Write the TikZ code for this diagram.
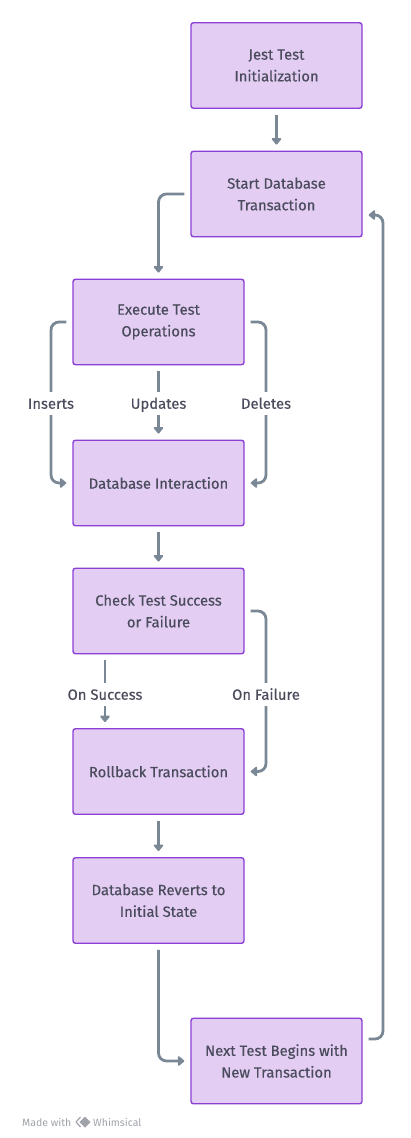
\documentclass[tikz,border=0pt]{standalone}
\usepackage{fontspec}
\setmainfont{Fira Sans}[UprightFeatures={FakeBold=0.35}]
\newfontfamily\wmfont{Fira Sans}
\usetikzlibrary{arrows.meta}
\definecolor{boxfill}{HTML}{E3CDF3}
\definecolor{boxdraw}{HTML}{8C3FD6}
\definecolor{txt}{HTML}{4A4B5C}
\definecolor{arr}{HTML}{7A8896}
\definecolor{wm}{HTML}{A0A4AA}
\begin{document}
\begin{tikzpicture}[x=1pt,y=-1pt,
  box/.style={draw=boxdraw, fill=boxfill, line width=1.4pt, rounded corners=2.5pt,
    minimum width=171pt, minimum height=85.5pt, align=center, text=txt,
    font=\fontsize{14.8}{21.7}\selectfont, inner sep=0pt},
  conn/.style={draw=arr, line width=2.8pt, rounded corners=8pt,
    shorten <=6pt, shorten >=6pt,
    -{Triangle[length=7pt,width=11pt,round]}},
  lbl/.style={text=txt, fill=white, font=\fontsize{14.8}{17}\selectfont,
    inner xsep=1pt, inner ysep=6pt, text height=10.5pt, text depth=0pt}]
\fill[white] (0,0) rectangle (410,1138);
\useasboundingbox (0,0) rectangle (410,1138);

\node[box] (n1) at (276.5,65.5) {Jest Test\\Initialization};
\node[box] (n2) at (276.5,194) {Start Database\\Transaction};
\node[box] (n3) at (158.5,322) {Execute Test\\Operations};
\node[box] (n4) at (158.5,483) {Database Interaction};
\node[box] (n5) at (158.5,611) {Check Test Success\\or Failure};
\node[box] (n6) at (158.5,771.5) {Rollback Transaction};
\node[box] (n7) at (158.5,900.5) {Database Reverts to\\Initial State};
\node[box] (n8) at (276.5,1061) {Next Test Begins with\\New Transaction};

\coordinate (iL) at (51,322);
\coordinate (dR) at (266,322);
\coordinate (sX) at (105,0);
\coordinate (fR) at (266,611);
\coordinate (lpA) at (383,1039);
\coordinate (lpB) at (383,215);

\draw[conn] (n1.south) -- (n2.north);
\draw[conn] (n2.west) -| (n3.north);
\draw[conn] (n3.west) -- (iL) |- (n4.west);
\draw[conn] (n3.south) -- (n4.north);
\draw[conn] (n3.east) -- (dR) |- (n4.east);
\draw[conn] (n4.south) -- (n5.north);
\draw[conn] (n5.south -| sX) -- (n6.north -| sX);
\draw[conn] (n5.east) -- (fR) |- (n6.east);
\draw[conn] (n6.south) -- (n7.north);
\draw[conn] (n7.south) |- (n8.west);
\draw[conn] (n8.east |- lpA) -- (lpA) -- (lpB) -- (n2.east |- lpB);

\node[lbl] (l1) at (51,403.5) {Inserts};
\node[lbl] (l2) at (158.5,403.5) {Updates};
\node[lbl] (l3) at (266,403.5) {Deletes};
\node[lbl] (l4) at (105,694.5) {On Success};
\node[lbl] (l5) at (266,694.5) {On Failure};

% watermark
\node[anchor=west, text=wm, font=\wmfont\fontsize{10.5}{12}\selectfont, inner sep=0pt] (wm1) at (22,1122) {Made with};
\node[anchor=west, text=wm, font=\wmfont\fontsize{10.5}{12}\selectfont, inner sep=0pt] (wm2) at (93,1122) {Whimsical};
\draw[wm, line width=1.2pt, line join=round] (80.5,1117) -- (76,1122) -- (80.5,1127);
\fill[wm] (85,1116.5) -- (90.5,1122) -- (85,1127.5) -- (79.5,1122) -- cycle;
\end{tikzpicture}
\end{document}
